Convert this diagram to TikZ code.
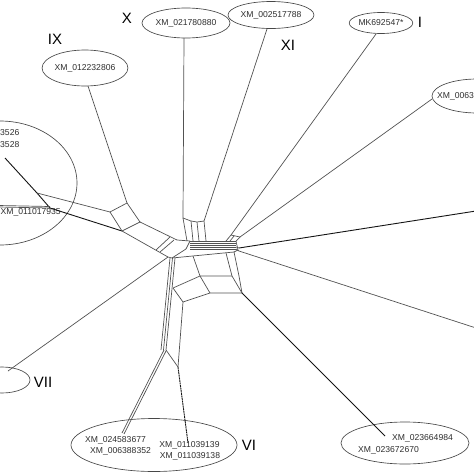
\documentclass[tikz,border=0pt]{standalone}
\usepackage{fontspec}
\setmainfont{Liberation Sans}
\usetikzlibrary{shapes.geometric, positioning, calc}

\tikzset{
	edge/.style={draw=black!68, line width=0.7pt},
	darkedge/.style={draw=black!92, line width=0.9pt},
	oval/.style={ellipse, draw=black!72, line width=0.65pt, inner sep=0pt, text=black!82, font=\fontsize{8.6}{9}\selectfont},
	leaftext/.style={inner sep=0pt, text=black!82, font=\fontsize{8.6}{9}\selectfont},
	clade/.style={inner sep=0pt, font=\fontsize{15}{15}\selectfont},
}

\begin{document}
\begin{tikzpicture}[x=1pt, y=-1pt]

		% === frame ===
		\useasboundingbox (0,0) rectangle (474,474);
		\clip (0,0) rectangle (474,474);

		% === Ovals round the leaves ===
		\node[oval, minimum width=88, minimum height=30] (ovX)   at (186,23)  {XM\_021780880};
		\node[oval, minimum width=74, minimum height=27] (ovXI)  at (271,15)  {XM\_002517788};
		\node[oval, minimum width=62, minimum height=21] (ovI)   at (381,23)  {MK692547*};
		\node[oval, minimum width=76, minimum height=36] (ovIX)  at (85,68)   {XM\_012232806};
		\node[oval, minimum width=90, minimum height=34] (ovR)   at (477,96)  {};
		\node[oval, minimum width=154, minimum height=124] (ovL) at (0,183)   {};
		\node[oval, minimum width=56, minimum height=26] (ovVII) at (2,380)   {};
		\node[oval, minimum width=166, minimum height=53] (ovVI) at (154,445) {};
		\node[oval, minimum width=128, minimum height=42] (ovV)  at (405,443) {};

		% === Texts inside the big ovals ===
		\node[leaftext, anchor=west] (tR)  at (437,96)  {XM\_0063};
		\node[leaftext, anchor=west] (tLa) at (0,133)   {3526};
		\node[leaftext, anchor=west] (tLb) at (0,145)   {3528};
		\node[leaftext, anchor=west] (tLc) at (0.5,212) {XM\_011017935};
		\node[leaftext] (tVIa) at (115.5,440) {XM\_024583677};
		\node[leaftext] (tVIb) at (120.5,451) {XM\_006388352};
		\node[leaftext] (tVIc) at (189.5,445) {XM\_011039139};
		\node[leaftext] (tVId) at (190,456)   {XM\_011039138};
		\node[leaftext] (tVa)  at (422.5,438) {XM\_023664984};
		\node[leaftext] (tVb)  at (388.5,450) {XM\_023672670};

		% === Clade numerals ===
		\node[clade] (cX)   at (127,18)  {X};
		\node[clade] (cIX)  at (55,39)   {IX};
		\node[clade] (cXI)  at (288,45)  {XI};
		\node[clade] (cI)   at (420,22)  {I};
		\node[clade] (cVII) at (43,382)  {VII};
		\node[clade] (cVI)  at (249,445) {VI};

		% === Leaf ends ===
		\coordinate (lfX)   at (184,38);
		\coordinate (lfXI)  at (267,29);
		\coordinate (lfI)   at (376,34);
		\coordinate (lfIX)  at (88,86);
		\coordinate (lfR)   at (432,99);
		\coordinate (lfE)   at (476,211);
		\coordinate (lfSE)  at (476,328);
		\coordinate (lfV)   at (385,436);
		\coordinate (lfVIa) at (122,433);
		\coordinate (lfVIb) at (188,443);
		\coordinate (lfVII) at (8,371);
		\coordinate (lfLa)  at (5,158);
		\coordinate (lfLb)  at (-2,207);

		% === Network vertices ===
		\coordinate (hA) at (190,241);	\coordinate (hB) at (236,241);	% hub band
		\coordinate (xa) at (183,218);	\coordinate (xb) at (204,221);	% X / XI box
		\coordinate (xc) at (187,241);	\coordinate (xd) at (206,241);
		\coordinate (b1) at (231,235);	\coordinate (b2) at (240,237);	% right box
		\coordinate (b3) at (239,248);	\coordinate (b4) at (239,251);
		\coordinate (q1) at (110,212);	\coordinate (q2) at (127,203);	% left box
		\coordinate (q3) at (140,222);	\coordinate (q4) at (122,231);
		\coordinate (d0) at (50,208);	\coordinate (d1) at (37,193);
		\coordinate (u1) at (177,240);	\coordinate (l1) at (168,257);
		\coordinate (s1) at (172,258);	\coordinate (s2) at (234,252);	% square
		\coordinate (m1) at (173,288);	\coordinate (m2) at (200,276);	\coordinate (m3) at (232,276);
		\coordinate (n1) at (183,302);	\coordinate (n2) at (210,293);	\coordinate (n3) at (242,293);
		\coordinate (j1) at (164,350);	\coordinate (j2) at (178,367);	% lower split

		% === Hub band ===
		\foreach \k in {0,...,4} {
			\draw[edge] ($(hA)+(0,2*\k)$) -- ($(hB)+(0,2*\k)$);		% parallel splits
		}
		\draw[edge] (hA) -- (186,249);
		\draw[edge] (hB) -- (238,250);

		% === X / XI box ===
		\draw[edge] (lfX) -- (xa);
		\draw[edge] (lfXI) -- (xb);
		\draw[edge] (xa) -- (191,221) -- (197,222) -- (xb);
		\draw[edge] (xa) -- (xc);
		\draw[edge] (xb) -- (xd);
		\foreach \x/\y in {191/221, 197/222} {
			\draw[edge] (\x,\y) -- (\x+2,241);
		}

		% === Right box ===
		\draw[edge] (lfI) -- (b1);
		\draw[edge] (lfR) -- (b2);
		\draw[darkedge] (lfE) -- (b3);
		\draw[edge] (lfSE) -- (b4);
		\draw[edge] (b1) -- (b2);
		\draw[edge] (b1) -- (226,241);
		\draw[edge] (b2) -- (hB);
		\draw[edge] ($(b1)+(3,1)$) -- (230,241);
		\draw[edge] (236,247) -- (b3);
		\draw[edge] (236,249) -- (b4);

		% === Left branch ===
		\draw[darkedge] (lfLa) -- (d1) -- (d0);
		\draw[edge] (lfLb) -- (d0);
		\draw[edge] ($(lfLb)+(0,-1.5)$) -- ($(d0)+(0,-1.5)$);
		\draw[edge] (d1) -- (q1);
		\draw[darkedge] (d0) -- (q4);
		\draw[edge] (lfIX) -- (q2);
		\draw[edge] (q1) -- (q2) -- (q3) -- (q4) -- cycle;
		\draw[edge] (q3) -- (u1) -- (hA);
		\draw[edge] (q4) -- (l1) -- (s1);
		\draw[edge] (156,250) -- (170,237);
		\draw[edge] (160,252) -- (174,240);
		\draw[edge] (lfVII) -- (l1);

		% === Square below the hub ===
		\draw[edge] (s1) -- (s2);
		\draw[edge] (186,249) -- (s1);
		\draw[edge] (238,250) -- (s2);
		\draw[edge] (193,256) -- (m2);
		\draw[edge] (226,253) -- (m3);
		\draw[edge] (s2) -- (239,276) -- (n3);
		\draw[edge] (m1) -- (m2) -- (m3);
		\draw[edge] (n1) -- (n2) -- (n3);
		\draw[edge] (m1) -- (n1);
		\draw[edge] (m2) -- (n2);
		\draw[edge] (m3) -- (n3);
		\draw[darkedge] (n3) -- (lfV);

		% === Lower split ===
		\foreach \k in {0,1,2} {
			\draw[edge] (170+2.5*\k,258) -- (161+2.5*\k,350);		% left band
		}
		\draw[edge] (n1) -- (j2);
		\draw[edge] (166,350) -- (j2);
		\draw[edge] (j1) -- (lfVIa);
		\draw[edge] ($(j1)+(2,1)$) -- ($(lfVIa)+(2,1)$);
		\draw[darkedge, dash pattern=on 2pt off 0.6pt] (j2) -- (lfVIb);

\end{tikzpicture}
\end{document}
